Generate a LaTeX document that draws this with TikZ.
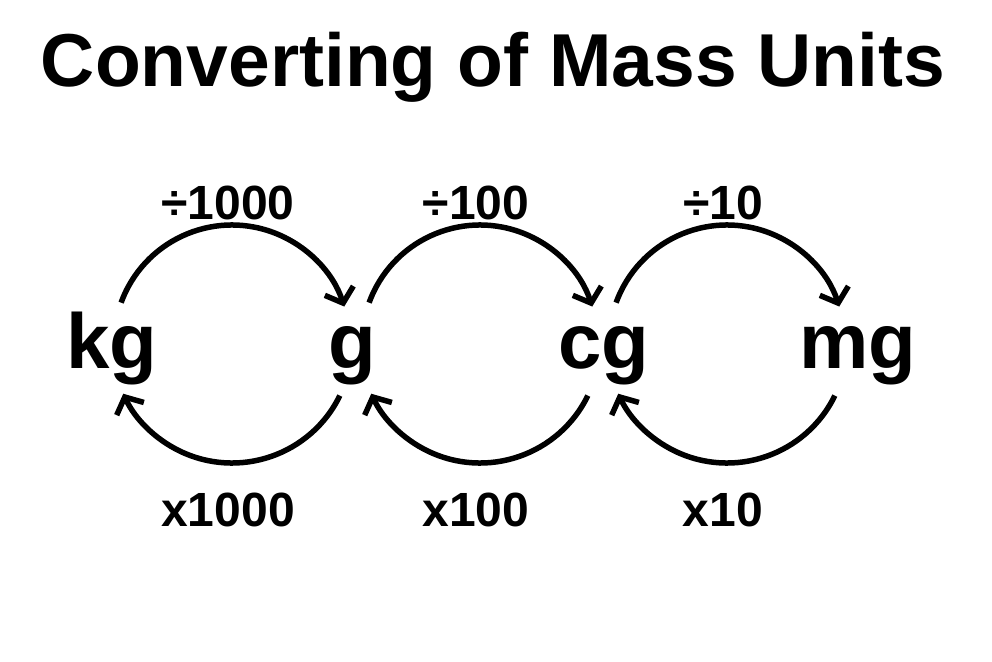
\documentclass[tikz,border=0pt]{standalone}
\usepackage{fontspec}
\setmainfont{Liberation Sans}
\usetikzlibrary{arrows.meta}
\begin{document}
\begin{tikzpicture}[x=1pt,y=-1pt,
  unit/.style={anchor=base,font=\fontsize{78}{78}\bfseries\selectfont},
  lab/.style={anchor=base,font=\fontsize{48}{48}\bfseries\selectfont},
  conv/.style={line width=5.5pt,-{Straight Barb[length=13pt,width=30pt,line width=5.5pt]}}]
\useasboundingbox (0,0) rectangle (992,661);
\node[anchor=base,font=\fontsize{75}{75}\bfseries\selectfont] (title) at (493,86) {Converting of Mass Units};
\node[unit] (kg) at (112,368) {kg};
\node[unit] (g) at (352,368) {g};
\node[unit] (cg) at (604,368) {cg};
\node[unit] (mg) at (858,368) {mg};
\foreach \cx/\t/\b [count=\i] in {232/{÷1000}/x1000, 480/{÷100}/x100, 727/{÷10}/x10}{
  \coordinate (c\i) at (\cx,343);
  \draw[conv] (c\i) ++(200:118) arc[start angle=200,end angle=342,radius=118];
  \draw[conv] (c\i) ++(26:120) arc[start angle=26,end angle=155,radius=120];
  \node[lab] (t\i) at (\cx-4,219) {\t};
  \node[lab] (b\i) at (\cx-4,526) {\b};
}
\end{tikzpicture}
\end{document}
